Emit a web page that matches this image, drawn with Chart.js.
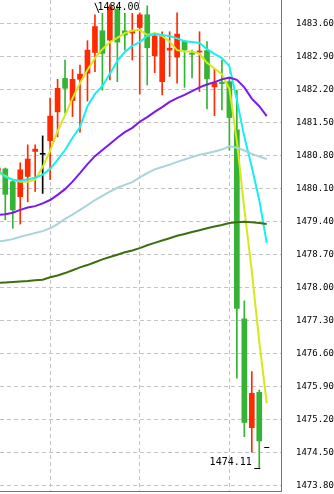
<!DOCTYPE html>
<html>
<head>
<meta charset="utf-8">
<style>
  html, body { margin: 0; padding: 0; background: #ffffff; }
  #chart { display: block; }
</style>
</head>
<body>
<canvas id="chart" width="334" height="494"></canvas>
<script src="https://cdn.jsdelivr.net/npm/chart.js@4.4.1/dist/chart.umd.min.js"></script>
<script>
  // bar numbers start one bar left of the visible edge
  const firstBar = -1;

  const opens  = [1480.45, 1480.52, 1480.25, 1479.93, 1480.36, 1480.89, 1480.83, 1481.12, 1481.73, 1482.44,
                  1481.97, 1482.42, 1482.55, 1482.99, 1483.45, 1483.25, 1483.91, 1483.45, 1483.40, 1483.52,
                  1483.79, 1482.92, 1482.37, 1483.04, 1482.89, 1483.23, 1482.98, 1483.00, 1483.03, 1482.26,
                  1482.36, 1482.37, 1481.35, 1477.34, 1475.03, 1475.78];
  const highs  = [1480.58, 1480.54, 1480.29, 1480.65, 1481.03, 1481.03, 1481.22, 1482.02, 1482.42, 1482.83,
                  1482.63, 1482.72, 1483.24, 1483.79, 1483.82, 1484.00, 1483.98, 1483.82, 1483.82, 1483.83,
                  1483.98, 1483.40, 1483.43, 1483.43, 1483.83, 1483.25, 1483.04, 1483.43, 1483.22, 1482.64,
                  1482.83, 1482.46, 1482.19, 1477.72, 1476.22, 1475.83];
  const lows   = [1480.39, 1479.44, 1479.26, 1479.35, 1479.82, 1480.04, 1480.00, 1480.29, 1481.20, 1481.70,
                  1481.63, 1481.30, 1481.96, 1482.58, 1482.19, 1482.41, 1482.37, 1483.04, 1482.83, 1482.11,
                  1482.30, 1482.56, 1482.09, 1482.48, 1482.34, 1482.25, 1482.45, 1482.16, 1481.79, 1481.65,
                  1481.77, 1480.92, 1476.08, 1474.84, 1474.51, 1474.17];
  const closes = [1480.54, 1479.98, 1479.65, 1480.50, 1480.73, 1480.94, 1480.83, 1481.64, 1482.23, 1482.23,
                  1482.42, 1482.53, 1483.04, 1483.54, 1482.97, 1483.96, 1483.21, 1483.36, 1483.45, 1483.79,
                  1483.09, 1483.34, 1483.34, 1483.08, 1483.38, 1483.04, 1482.95, 1483.02, 1482.43, 1482.35,
                  1482.33, 1481.61, 1477.56, 1475.14, 1475.76, 1474.75];

  // moving averages, one value per bar plus one bar of shift
  const maFast  = [1480.45, 1480.37, 1480.29, 1480.25, 1480.25, 1480.29, 1480.56, 1480.90, 1481.32, 1481.66,
                   1482.02, 1482.34, 1482.62, 1482.87, 1483.06, 1483.21, 1483.30, 1483.40, 1483.45, 1483.47,
                   1483.36, 1483.40, 1483.34, 1483.22, 1483.04, 1483.01, 1483.01, 1482.96, 1482.77, 1482.65,
                   1482.53, 1482.22, 1481.11, 1479.67, 1478.35, 1476.85, 1475.55];
  const maMid   = [1480.50, 1480.35, 1480.29, 1480.27, 1480.30, 1480.33, 1480.40, 1480.52, 1480.71, 1480.92,
                   1481.18, 1481.41, 1481.85, 1482.11, 1482.28, 1482.54, 1482.81, 1483.00, 1483.13, 1483.21,
                   1483.34, 1483.38, 1483.36, 1483.34, 1483.29, 1483.23, 1483.21, 1483.19, 1483.06, 1482.96,
                   1482.87, 1482.70, 1481.98, 1481.20, 1480.56, 1479.86, 1478.95];
  const maSlow  = [1479.54, 1479.56, 1479.59, 1479.65, 1479.70, 1479.73, 1479.79, 1479.86, 1479.97, 1480.09,
                   1480.25, 1480.43, 1480.62, 1480.79, 1480.92, 1481.05, 1481.18, 1481.30, 1481.39, 1481.52,
                   1481.62, 1481.73, 1481.83, 1481.94, 1482.02, 1482.09, 1482.17, 1482.25, 1482.31, 1482.36,
                   1482.42, 1482.46, 1482.41, 1482.25, 1482.01, 1481.85, 1481.64];
  const maLong  = [1478.98, 1479.00, 1479.03, 1479.08, 1479.12, 1479.16, 1479.20, 1479.26, 1479.35, 1479.46,
                   1479.55, 1479.65, 1479.75, 1479.86, 1479.95, 1480.04, 1480.12, 1480.18, 1480.24, 1480.34,
                   1480.43, 1480.51, 1480.56, 1480.61, 1480.67, 1480.72, 1480.77, 1480.82, 1480.85, 1480.89,
                   1480.93, 1481.00, 1480.97, 1480.91, 1480.84, 1480.78, 1480.73];
  const maTrend = [1478.10, 1478.11, 1478.12, 1478.13, 1478.14, 1478.16, 1478.17, 1478.22, 1478.26, 1478.31,
                   1478.37, 1478.43, 1478.48, 1478.54, 1478.60, 1478.65, 1478.70, 1478.75, 1478.79, 1478.84,
                   1478.90, 1478.95, 1479.00, 1479.05, 1479.10, 1479.14, 1479.18, 1479.22, 1479.26, 1479.30,
                   1479.33, 1479.37, 1479.39, 1479.40, 1479.39, 1479.37, 1479.35];

  const priceTicks = [1473.80, 1474.50, 1475.20, 1475.90, 1476.60, 1477.30, 1478.00, 1478.70,
                      1479.40, 1480.10, 1480.80, 1481.50, 1482.20, 1482.90, 1483.60];
  const timeGridBars = [6, 18, 30];

  const highMark = { bar: 14, label: "1484.00" };
  const lowMark = { bar: 34, label: "1474.11" };
  const bidPrice = 1474.61;

  const UP = "#ff2a00";
  const DOWN = "#34b334";
  const FLAT = "#000000";

  function candleColor(i) {
    if (closes[i] > opens[i]) return UP;
    if (closes[i] < opens[i]) return DOWN;
    return FLAT;
  }

  function lineSeries(values) {
    return values.map((v, i) => ({ x: firstBar + i, y: v }));
  }

  const wicks = highs.map((h, i) => ({ x: firstBar + i, y: [lows[i], h] }));
  const bodies = opens.map((o, i) => ({
    x: firstBar + i,
    y: [Math.min(o, closes[i]), Math.max(o, closes[i])]
  }));

  function maDataset(values, color) {
    return {
      type: "line",
      data: lineSeries(values),
      borderColor: color,
      borderWidth: 2,
      pointRadius: 0,
      tension: 0,
      order: 0
    };
  }

  const markerPlugin = {
    id: "markerPlugin",
    afterDatasetsDraw(chart) {
      const { ctx, scales } = chart;
      const hi = highMark.bar - firstBar;
      const lo = lowMark.bar - firstBar;
      const hx = scales.x.getPixelForValue(highMark.bar);
      const hy = scales.y.getPixelForValue(highs[hi]);
      const lx = scales.x.getPixelForValue(lowMark.bar);
      const ly = scales.y.getPixelForValue(lows[lo]);
      const by = scales.y.getPixelForValue(bidPrice);

      ctx.save();
      ctx.strokeStyle = "#000000";
      ctx.fillStyle = "#000000";
      ctx.lineWidth = 1;
      ctx.font = '10px "DejaVu Sans Mono"';
      ctx.textBaseline = "middle";

      ctx.beginPath();
      ctx.moveTo(hx - 15, hy - 2);
      ctx.lineTo(hx - 11, hy + 8);
      ctx.stroke();
      ctx.textAlign = "left";
      ctx.fillText(highMark.label, hx - 12.5, hy + 3);

      ctx.beginPath();
      ctx.moveTo(lx - 5, Math.round(ly) + 0.5);
      ctx.lineTo(lx + 1, Math.round(ly) + 0.5);
      ctx.stroke();
      ctx.textAlign = "right";
      ctx.fillText(lowMark.label, lx - 7.5, ly - 6);

      ctx.beginPath();
      ctx.moveTo(lx + 5, Math.round(by) + 0.5);
      ctx.lineTo(lx + 10, Math.round(by) + 0.5);
      ctx.stroke();
      ctx.restore();
    }
  };

  new Chart(document.getElementById("chart"), {
    type: "line",
    data: {
      datasets: [
        maDataset(maTrend, "#3d6e12"),
        maDataset(maLong, "#a8d4da"),
        maDataset(maSlow, "#7a18f2"),
        maDataset(maMid, "#19eef0"),
        maDataset(maFast, "#d6e81a"),
        {
          type: "bar",
          data: wicks,
          backgroundColor: (c) => candleColor(c.dataIndex),
          barThickness: 1,
          grouped: false,
          order: 2
        },
        {
          type: "bar",
          data: bodies,
          backgroundColor: (c) => candleColor(c.dataIndex),
          barThickness: 5,
          minBarLength: 1,
          grouped: false,
          order: 1
        }
      ]
    },
    options: {
      responsive: false,
      animation: false,
      layout: { padding: { top: 0, right: 0, bottom: 3, left: 0 } },
      plugins: {
        legend: { display: false },
        tooltip: { enabled: false }
      },
      scales: {
        x: {
          type: "linear",
          min: -0.71,
          max: 36.91,
          offset: false,
          afterBuildTicks(scale) {
            scale.ticks = timeGridBars.map((v) => ({ value: v }));
          },
          ticks: { display: false },
          grid: { color: "#c4c4c4", drawTicks: false, offset: false },
          border: { color: "#7f7f1e", width: 1, dash: [4, 3] }
        },
        y: {
          position: "right",
          min: 1473.687,
          max: 1484.103,
          afterBuildTicks(scale) {
            scale.ticks = priceTicks.map((v) => ({ value: v }));
          },
          afterFit(scale) {
            scale.width = 53;
            scale.paddingTop = 0;
            scale.paddingBottom = 0;
          },
          ticks: {
            color: "#000000",
            padding: 15,
            font: { family: "DejaVu Sans Mono", size: 9 },
            callback: (v) => Number(v).toFixed(2)
          },
          grid: { color: "#c4c4c4", drawTicks: false },
          border: { color: "#7f7f1e", width: 1, dash: [4, 3] }
        }
      }
    },
    plugins: [markerPlugin]
  });
</script>
</body>
</html>
